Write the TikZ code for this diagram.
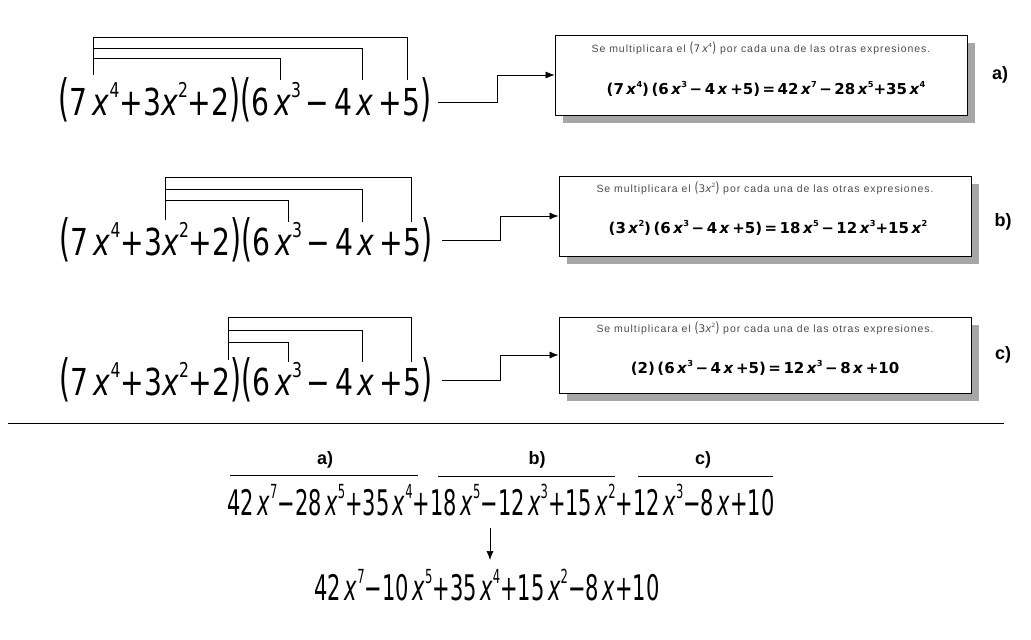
\documentclass[tikz,border=0pt]{standalone}
\usepackage{graphicx}
\usepackage{fontspec}
\setsansfont{Liberation Sans}
\usetikzlibrary{arrows.meta}
\newfontfamily\dv{DejaVu Sans}
\newcommand{\X}[1]{\textit{x}\raisebox{0.5em}{\fontsize{0.55em}{0.55em}\selectfont #1}}
\newcommand{\Xn}{\textit{x}}
\newcommand{\LP}{\scalebox{1}[1.35]{(}}
\newcommand{\RP}{\scalebox{1}[1.35]{)}}
\newcommand{\mi}{−}
\newcommand{\expr}{\resizebox{372pt}{38pt}{\dv\LP7\,\X{4}+3\X{2}+2\RP\LP6\,\X{3}\,\mi\,4\,\Xn\,+5\RP}}
\newcommand{\fa}{\dv\bfseries (7\,\X{4})\,(6\,\X{3}\,\mi\,4\,\Xn\,+5)\,=\,42\,\X{7}\,\mi\,28\,\X{5}+35\,\X{4}}
\newcommand{\fb}{\dv\bfseries (3\,\X{2})\,(6\,\X{3}\,\mi\,4\,\Xn\,+5)\,=\,18\,\X{5}\,\mi\,12\,\X{3}+15\,\X{2}}
\newcommand{\fc}{\dv\bfseries (2)\,(6\,\X{3}\,\mi\,4\,\Xn\,+5)\,=\,12\,\X{3}\,\mi\,8\,\Xn\,+10}
\begin{document}
\begin{tikzpicture}[x=1pt,y=-1pt,
  br/.style={line width=0.7pt},
  conn/.style={-{Latex[length=9pt,width=7pt]},line width=0.7pt},
  box/.style={draw,line width=0.8pt,fill=white,minimum width=412pt,minimum height=80pt},
  shad/.style={fill=gray!70,minimum width=412pt,minimum height=80pt},
  lab/.style={font=\sffamily\bfseries\fontsize{18}{18}\selectfont},
  form/.style={font=\fontsize{15}{15}\selectfont},
  small/.style={font=\sffamily\fontsize{10.5}{10.5}\selectfont\addfontfeature{LetterSpace=9},text=gray!60!black}]
\useasboundingbox (0,0) rectangle (1031,640);
% row a
\node (ea) at (245,100) {\expr};
\draw[br] (93,75)--(93,37)--(407,37)--(407,80) (93,48)--(362,48)--(362,80) (93,58)--(280,58)--(280,80);
\node[shad] (sa) at (769,83) {};
\node[box] (ba) at (761,75) {};
\node[small] at (761,48) {Se multiplicara el {\dv\LP7\,\X{4}\RP} por cada una de las otras expresiones.};
\node[form] (fa) at (766,89) {\fa};
\coordinate (a1) at (438,102);
\draw[conn] (a1)-|(497,75)--(ba.west);
\node[lab] at (1000,75) {a)};
% row b
\node (eb) at (246,240) {\expr};
\draw[br] (165,220)--(165,177)--(411,177)--(411,222) (165,189)--(362,189)--(362,222) (165,200)--(288,200)--(288,222);
\node[shad] (sb) at (773,224) {};
\node[box] (bb) at (765,216) {};
\node[small] at (765,188) {Se multiplicara el {\dv\LP3\X{2}\RP} por cada una de las otras expresiones.};
\node[form] (fb) at (768,228) {\fb};
\coordinate (b1) at (442,240);
\draw[conn] (b1)-|(500,216)--(bb.west);
\node[lab] at (1003,222) {b)};
% row c
\node (ec) at (246,380) {\expr};
\draw[br] (228,360)--(228,317)--(411,317)--(411,362) (228,330)--(362,330)--(362,362) (228,342)--(288,342)--(288,362);
\node[shad,minimum height=76pt] (sc) at (773,363) {};
\node[box,minimum height=76pt] (bc) at (765,355) {};
\node[small] at (765,328) {Se multiplicara el {\dv\LP3\X{2}\RP} por cada una de las otras expresiones.};
\node[form] (fc) at (765,368) {\fc};
\coordinate (c1) at (442,380);
\draw[conn] (c1)-|(500,355)--(bc.west);
\node[lab] at (1003,355) {c)};
% separator
\draw[line width=0.6pt] (8,423)--(1004,423);
% bottom
\node[lab] at (325,460) {a)};
\node[lab] at (537,460) {b)};
\node[lab] at (703,460) {c)};
\draw[line width=0.6pt] (230,475)--(418,475) (438,476)--(615,476) (638,476)--(773,476);
\node (sum) at (501,500) {\resizebox{547pt}{32pt}{\dv 42\,\X{7}\mi28\,\X{5}+35\,\X{4}+18\,\X{5}\mi12\,\X{3}+15\,\X{2}+12\,\X{3}\mi8\,\Xn+10}};
\node (res) at (487,585) {\resizebox{345pt}{32pt}{\dv 42\,\X{7}\mi10\,\X{5}+35\,\X{4}+15\,\X{2}\mi8\,\Xn+10}};
\draw[conn] (490,528)--(490,560);
\end{tikzpicture}
\end{document}
